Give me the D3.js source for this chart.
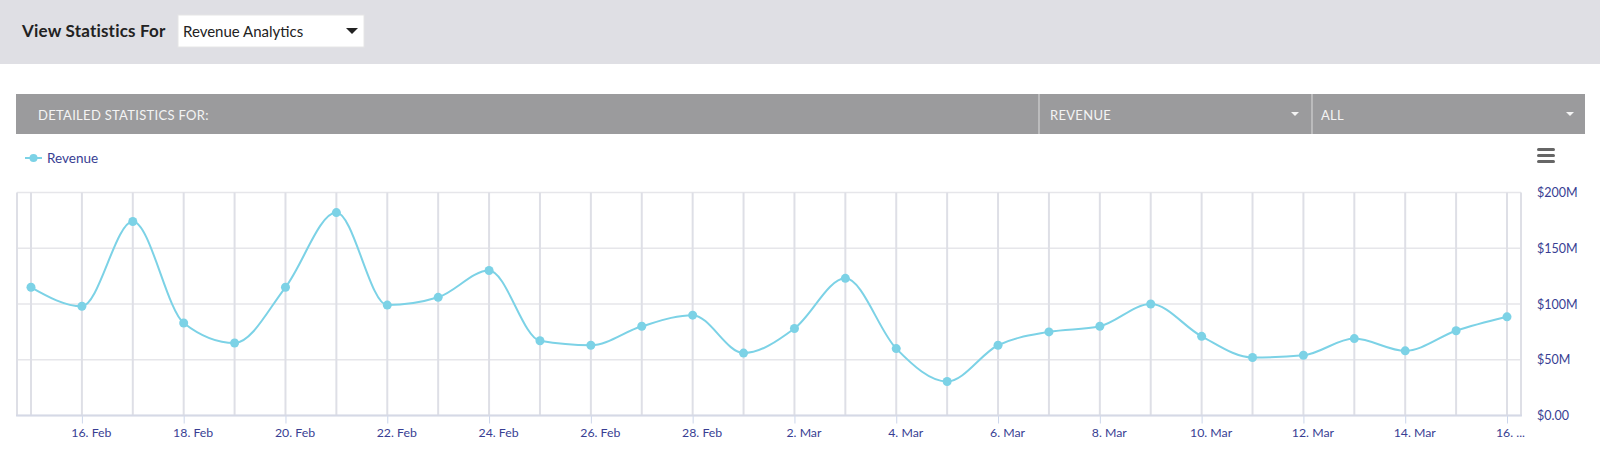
<!DOCTYPE html>
<html>
<head>
<meta charset="utf-8">
<script src="https://cdn.jsdelivr.net/npm/d3@7"></script>
<style>
  body { margin: 0; background: #fff; }
  svg { display: block; font-family: Lato, "Open Sans", sans-serif; }
</style>
</head>
<body>
<div id="chart"></div>
<script>
const days = [
  "15. Feb", "16. Feb", "17. Feb", "18. Feb", "19. Feb", "20. Feb", "21. Feb",
  "22. Feb", "23. Feb", "24. Feb", "25. Feb", "26. Feb", "27. Feb", "28. Feb",
  "1. Mar", "2. Mar", "3. Mar", "4. Mar", "5. Mar", "6. Mar", "7. Mar",
  "8. Mar", "9. Mar", "10. Mar", "11. Mar", "12. Mar", "13. Mar", "14. Mar",
  "15. Mar", "16. Mar"
];
// revenue in $M
const revenue = [
  115, 98, 174, 83, 65, 115, 182, 99, 106, 130, 67, 63, 80, 90, 56,
  78, 123, 60, 30.5, 63, 75, 80, 100, 71, 52, 54, 69, 58, 76, 88.5
];
const xTickDays = days.filter((d, i) => i % 2 === 1);
const xTickLabels = [
  "16. Feb", "18. Feb", "20. Feb", "22. Feb", "24. Feb", "26. Feb", "28. Feb",
  "2. Mar", "4. Mar", "6. Mar", "8. Mar", "10. Mar", "12. Mar", "14. Mar", "16. ..."
];
const yTicks = [0, 50, 100, 150, 200];
const yTickLabels = ["$0.00", "$50M", "$100M", "$150M", "$200M"];

const width = 1600;
const height = 473;
const plot = { left: 17, right: 1521, top: 192.5, bottom: 415.5 };
const lineColor = "#7cd2e6";
const labelColor = "#383e93";

const svg = d3.select("#chart").append("svg")
  .attr("width", width)
  .attr("height", height);

// top filter bar
svg.append("rect").attr("width", width).attr("height", 64).attr("fill", "#dfdfe4");
svg.append("text")
  .attr("x", 22).attr("y", 37)
  .attr("font-size", 17).attr("font-weight", "bold").attr("fill", "#222")
  .attr("letter-spacing", 0.2)
  .text("View Statistics For");
svg.append("rect")
  .attr("x", 178).attr("y", 15).attr("width", 186).attr("height", 32)
  .attr("fill", "#fff").attr("stroke", "#e6e6e6");
svg.append("text")
  .attr("x", 183).attr("y", 37)
  .attr("font-size", 15).attr("fill", "#222")
  .text("Revenue Analytics");
svg.append("path").attr("d", "M346,28L358,28L352,34Z").attr("fill", "#222");

// grey header
svg.append("rect")
  .attr("x", 16).attr("y", 94).attr("width", 1569).attr("height", 40)
  .attr("fill", "#9b9b9d");
[1039, 1312].forEach(x => {
  svg.append("line")
    .attr("x1", x).attr("x2", x).attr("y1", 94).attr("y2", 134)
    .attr("stroke", "#dcdcdc");
});
const header = [
  { t: "DETAILED STATISTICS FOR:", x: 38 },
  { t: "REVENUE", x: 1050 },
  { t: "ALL", x: 1321 }
];
header.forEach(h => {
  svg.append("text")
    .attr("x", h.x).attr("y", 115).attr("dy", "0.35em")
    .attr("font-size", 13).attr("letter-spacing", 0.3).attr("fill", "#f4f4f4")
    .text(h.t);
});
[1295, 1570].forEach(x => {
  svg.append("path")
    .attr("d", `M${x - 4},112L${x + 4},112L${x},116Z`)
    .attr("fill", "#f4f4f4");
});

// legend
svg.append("line")
  .attr("x1", 25).attr("x2", 42).attr("y1", 158).attr("y2", 158)
  .attr("stroke", lineColor).attr("stroke-width", 2);
svg.append("circle").attr("cx", 33.5).attr("cy", 158).attr("r", 4).attr("fill", lineColor);
svg.append("text")
  .attr("x", 47).attr("y", 158).attr("dy", "0.35em")
  .attr("font-size", 13.5).attr("fill", labelColor)
  .text("Revenue");

// menu icon
[148, 154, 160].forEach(y => {
  svg.append("rect")
    .attr("x", 1537).attr("y", y).attr("width", 18).attr("height", 3)
    .attr("rx", 1.5).attr("fill", "#666");
});

// scales
const x = d3.scalePoint()
  .domain(days)
  .range([plot.left, plot.right])
  .padding(0.275);
const y = d3.scaleLinear()
  .domain([0, 200])
  .range([plot.bottom, plot.top]);

// grid
svg.append("g")
  .selectAll("line")
  .data(yTicks)
  .join("line")
  .attr("x1", plot.left).attr("x2", plot.right)
  .attr("y1", d => y(d)).attr("y2", d => y(d))
  .attr("stroke", "#e6e6ea").attr("stroke-width", 1.5);
svg.append("g")
  .selectAll("line")
  .data(days)
  .join("line")
  .attr("x1", d => x(d)).attr("x2", d => x(d))
  .attr("y1", plot.top).attr("y2", plot.bottom)
  .attr("stroke", "#dedfe6").attr("stroke-width", 2);
[plot.left, plot.right].forEach(px => {
  svg.append("line")
    .attr("x1", px).attr("x2", px).attr("y1", plot.top).attr("y2", plot.bottom)
    .attr("stroke", "#dedfe6").attr("stroke-width", 2);
});

// x axis
const xAxis = svg.append("g")
  .attr("transform", `translate(0,${plot.bottom})`)
  .call(d3.axisBottom(x)
    .tickValues(xTickDays)
    .tickSize(8)
    .tickPadding(4.5)
    .tickFormat((d, i) => xTickLabels[i]));
xAxis.select(".domain").remove();
xAxis.selectAll(".tick line").attr("stroke", "#ccd6eb");
xAxis.selectAll(".tick text")
  .attr("font-size", 12.3).attr("fill", labelColor)
  .attr("font-family", "Lato, sans-serif")
  .attr("dx", 9);
xAxis.selectAll(".tick:last-of-type text").attr("dx", 3);
svg.append("line")
  .attr("x1", plot.left - 1).attr("x2", plot.right + 1)
  .attr("y1", plot.bottom).attr("y2", plot.bottom)
  .attr("stroke", "#d5d9e6").attr("stroke-width", 2);

// y axis (right)
const yAxis = svg.append("g")
  .attr("transform", `translate(1537,0)`)
  .call(d3.axisRight(y)
    .tickValues(yTicks)
    .tickSize(0)
    .tickPadding(0)
    .tickFormat((d, i) => yTickLabels[i]));
yAxis.select(".domain").remove();
yAxis.selectAll(".tick text")
  .attr("font-size", 12.5).attr("fill", labelColor)
  .attr("font-family", "Lato, sans-serif");

// series
const line = d3.line()
  .x((d, i) => x(days[i]))
  .y(d => y(d))
  .curve(d3.curveMonotoneX);
svg.append("path")
  .datum(revenue)
  .attr("d", line)
  .attr("fill", "none")
  .attr("stroke", lineColor)
  .attr("stroke-width", 2);
svg.append("g")
  .selectAll("circle")
  .data(revenue)
  .join("circle")
  .attr("cx", (d, i) => x(days[i]))
  .attr("cy", d => y(d))
  .attr("r", 4.5)
  .attr("fill", lineColor);
</script>
</body>
</html>
